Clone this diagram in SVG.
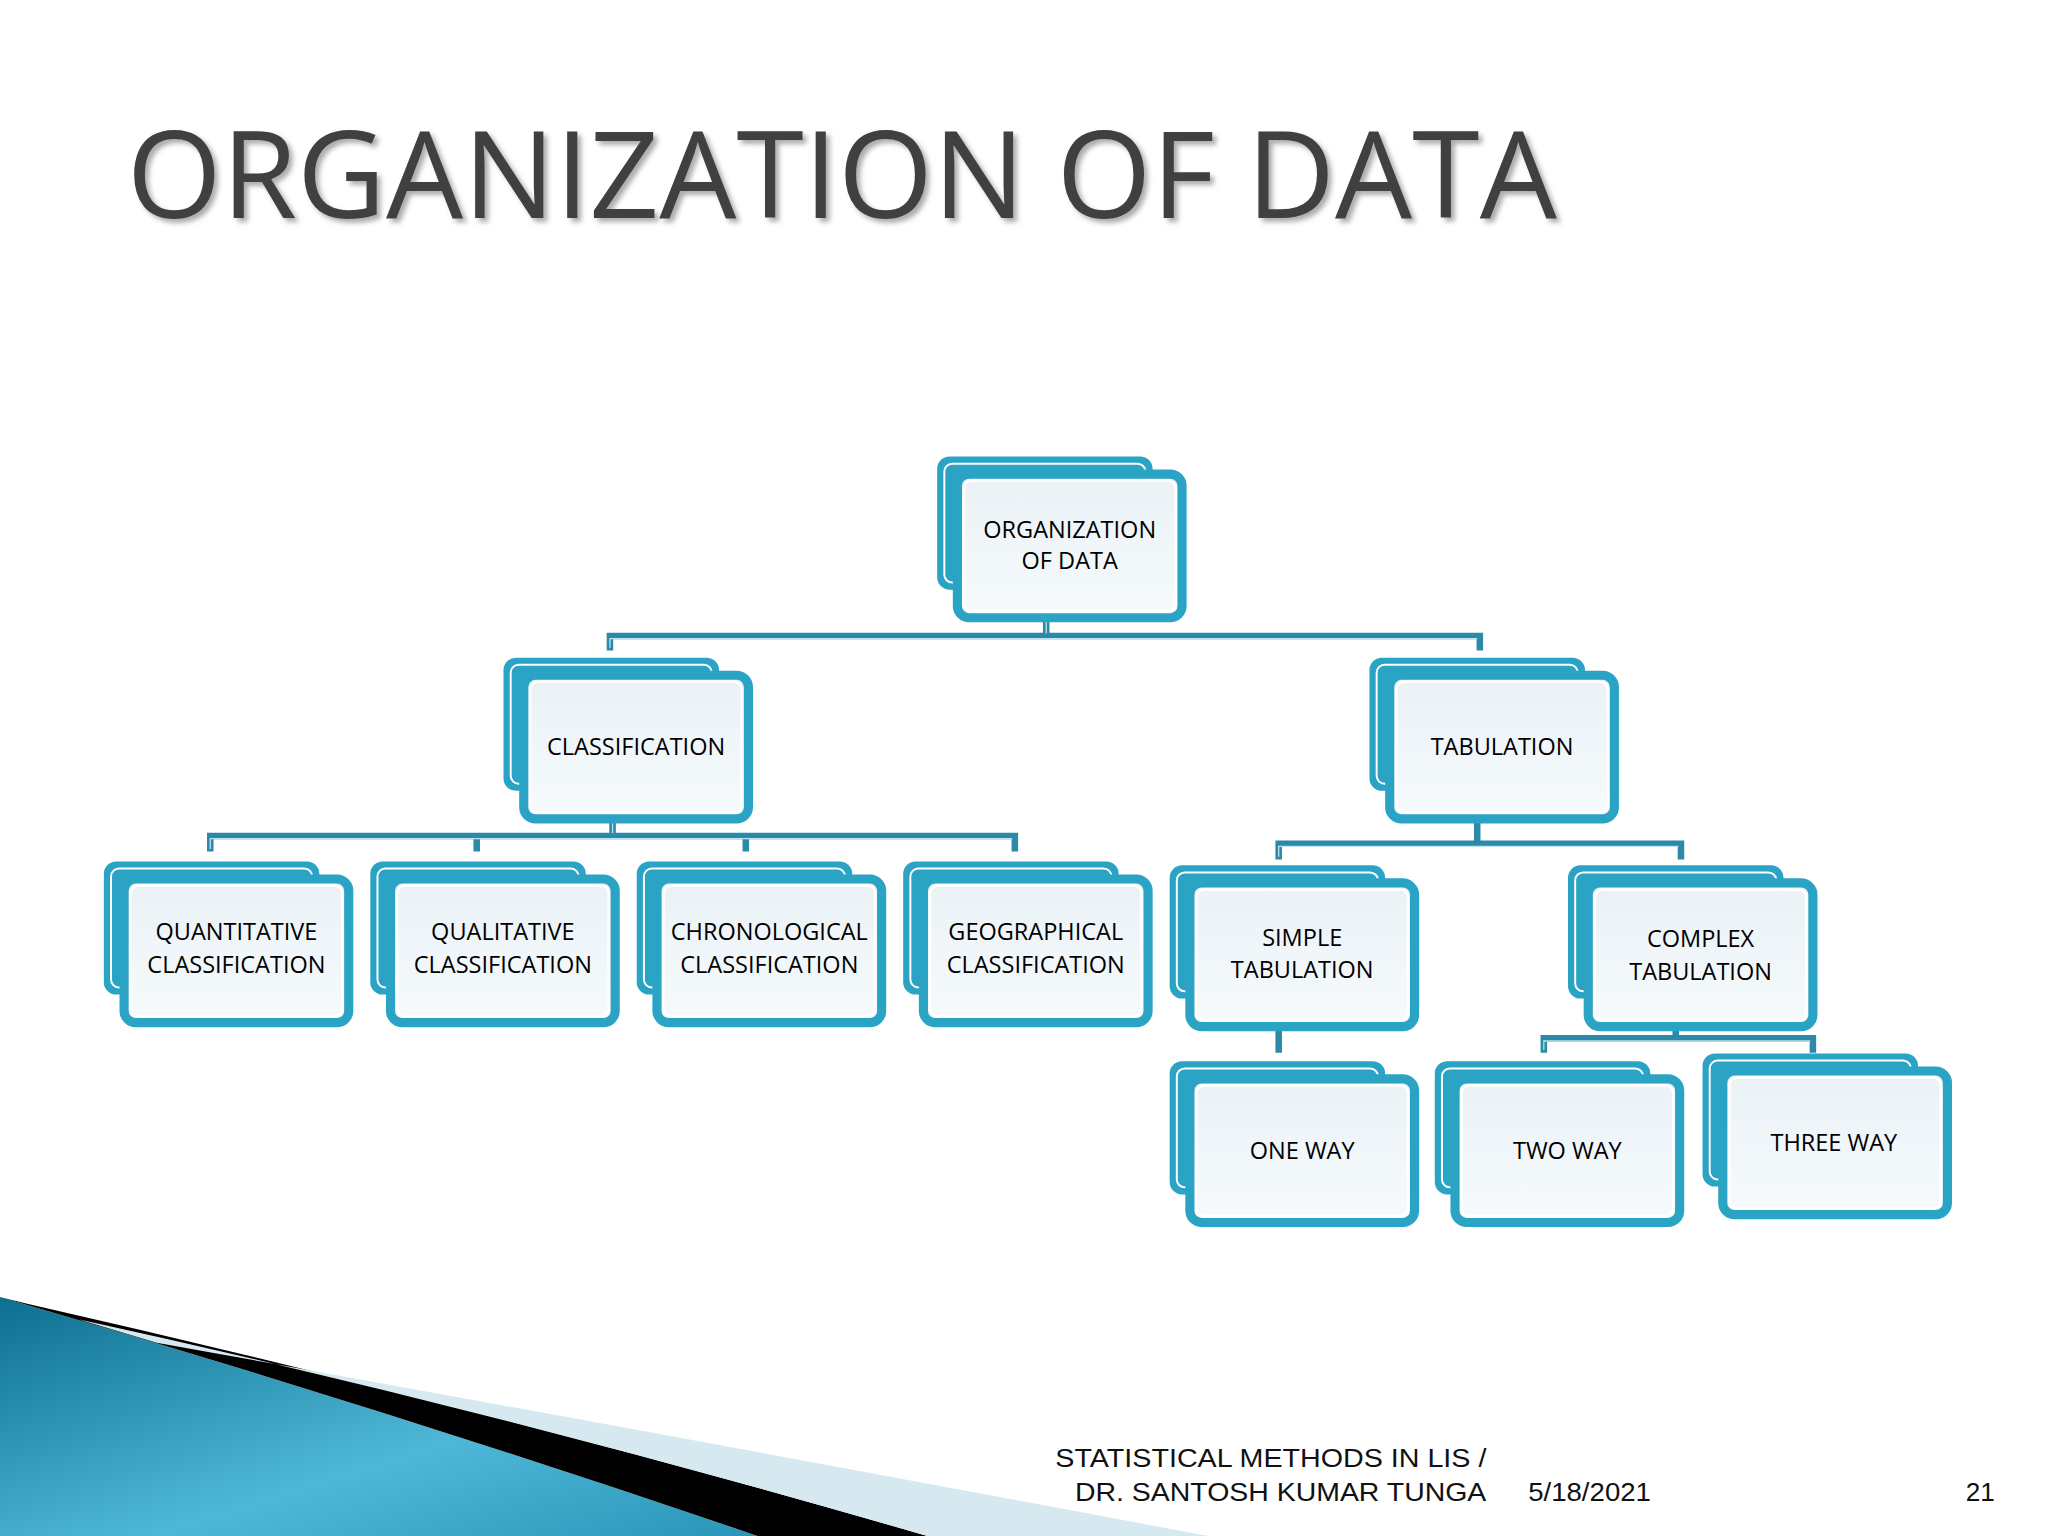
<svg xmlns="http://www.w3.org/2000/svg" width="2048" height="1536" viewBox="0 0 2048 1536">
<defs>
<linearGradient id="sw" x1="0" y1="0" x2="1" y2="1"><stop offset="0" stop-color="#0d6f8f"/><stop offset="0.6" stop-color="#4fb8d8"/><stop offset="1" stop-color="#2a95b8"/></linearGradient>
<linearGradient id="nf" x1="0" y1="0" x2="0" y2="1"><stop offset="0" stop-color="#eaf2f6"/><stop offset="1" stop-color="#f6fafc"/></linearGradient>
<filter id="sh" x="-5%" y="-20%" width="110%" height="140%"><feDropShadow dx="3" dy="3" stdDeviation="2" flood-color="#888" flood-opacity="0.7"/></filter>
<style>
.back{fill:#2ba3c4;stroke:#2ba3c4;stroke-width:3}
.backin{fill:none;stroke:#ffffff;stroke-width:1.5}
.front{fill:url(#nf);stroke:#2ba3c4;stroke-width:7}
.frontin{fill:none;stroke:#ffffff;stroke-width:2}
.t{font-family:"Open Sans","Liberation Sans",sans-serif;font-size:18px;font-weight:500;fill:#000;text-anchor:middle}
.c{fill:none;stroke:#2a8aa8;stroke-width:5}
.ci{fill:none;stroke:#bfe3ee;stroke-width:1}
.f{font-family:"Liberation Sans",Arial,sans-serif;font-size:20px;fill:#111}
</style>
</defs>
<rect width="2048" height="1536" fill="#ffffff"/>
<g transform="scale(1.30612)">
<g id="swoosh">
<path d="M0,993 Q300,1080 580,1176 L0,1176 Z" fill="url(#sw)"/>
<path d="M20,998 Q380,1080 710,1176 L580,1176 Q300,1080 0,993 Z" fill="#000"/>
<path d="M120,1028 Q520,1100 925,1176 L710,1176 Q380,1080 60,1010 Z" fill="#d6e8f0"/>
</g>
<g id="title">
<text x="97" y="167" filter="url(#sh)" font-family="'Open Sans','Liberation Sans',sans-serif" font-size="92" fill="#404040" textLength="1095" lengthAdjust="spacingAndGlyphs">ORGANIZATION OF DATA</text>
</g>
<g id="connectors">
<path class="c" d="M801,460 V487 M467,498 V487 H1133 V498"/>
<path class="ci" d="M801,460 V485 M467,496 V489 H1131"/>
<path class="c" d="M469,628 V640 M161,652 V640 H777 V652 M365,640 V652 M571,640 V652"/>
<path class="ci" d="M469,628 V638 M161,650 V642 H775"/>
<path class="c" d="M1131,628 V646 M979,658 V646 H1287 V658"/>
<path class="ci" d="M979,656 V648 H1285"/>
<path class="c" d="M979,786 V806"/>
<path class="c" d="M1283,786 V795 M1182,806 V795 H1388 V806"/>
<path class="ci" d="M1182,804 V797 H1386"/>
</g>
<defs>
<g id="nodebox">
<rect class="back" x="-14" y="-12" width="162" height="99" rx="8"/>
<rect class="backin" x="-10" y="-8" width="154" height="91" rx="6"/>
<rect class="front" x="0" y="0" width="172" height="110" rx="9"/>
<rect class="frontin" x="5" y="5" width="162" height="100" rx="6"/>
</g>
</defs>
<g id="n-org"><use href="#nodebox" x="733" y="363"/><text class="t" x="819" y="412">ORGANIZATION</text><text class="t" x="819" y="436">OF DATA</text></g>
<g id="n-class"><use href="#nodebox" x="401" y="517"/><text class="t" x="487" y="578">CLASSIFICATION</text></g>
<g id="n-tab"><use href="#nodebox" x="1064" y="517"/><text class="t" x="1150" y="578">TABULATION</text></g>
<g id="n-quant"><use href="#nodebox" x="95" y="673"/><text class="t" x="181" y="720">QUANTITATIVE</text><text class="t" x="181" y="745">CLASSIFICATION</text></g>
<g id="n-qual"><use href="#nodebox" x="299" y="673"/><text class="t" x="385" y="720">QUALITATIVE</text><text class="t" x="385" y="745">CLASSIFICATION</text></g>
<g id="n-chron"><use href="#nodebox" x="503" y="673"/><text class="t" x="589" y="720">CHRONOLOGICAL</text><text class="t" x="589" y="745">CLASSIFICATION</text></g>
<g id="n-geo"><use href="#nodebox" x="707" y="673"/><text class="t" x="793" y="720">GEOGRAPHICAL</text><text class="t" x="793" y="745">CLASSIFICATION</text></g>
<g id="n-simple"><use href="#nodebox" x="911" y="676"/><text class="t" x="997" y="724">SIMPLE</text><text class="t" x="997" y="749">TABULATION</text></g>
<g id="n-complex"><use href="#nodebox" x="1216" y="676"/><text class="t" x="1302" y="725">COMPLEX</text><text class="t" x="1302" y="750">TABULATION</text></g>
<g id="n-one"><use href="#nodebox" x="911" y="826"/><text class="t" x="997" y="887">ONE WAY</text></g>
<g id="n-two"><use href="#nodebox" x="1114" y="826"/><text class="t" x="1200" y="887">TWO WAY</text></g>
<g id="n-three"><use href="#nodebox" x="1319" y="820"/><text class="t" x="1404" y="881">THREE WAY</text></g>
<g id="footer">
<text class="f" x="808" y="1123" textLength="330" lengthAdjust="spacingAndGlyphs">STATISTICAL METHODS IN LIS /</text>
<text class="f" x="823" y="1149" textLength="315" lengthAdjust="spacingAndGlyphs">DR. SANTOSH KUMAR TUNGA</text>
<text class="f" x="1170" y="1149" textLength="94" lengthAdjust="spacingAndGlyphs">5/18/2021</text>
<text class="f" x="1505" y="1149">21</text>
</g>
</g>
</svg>
